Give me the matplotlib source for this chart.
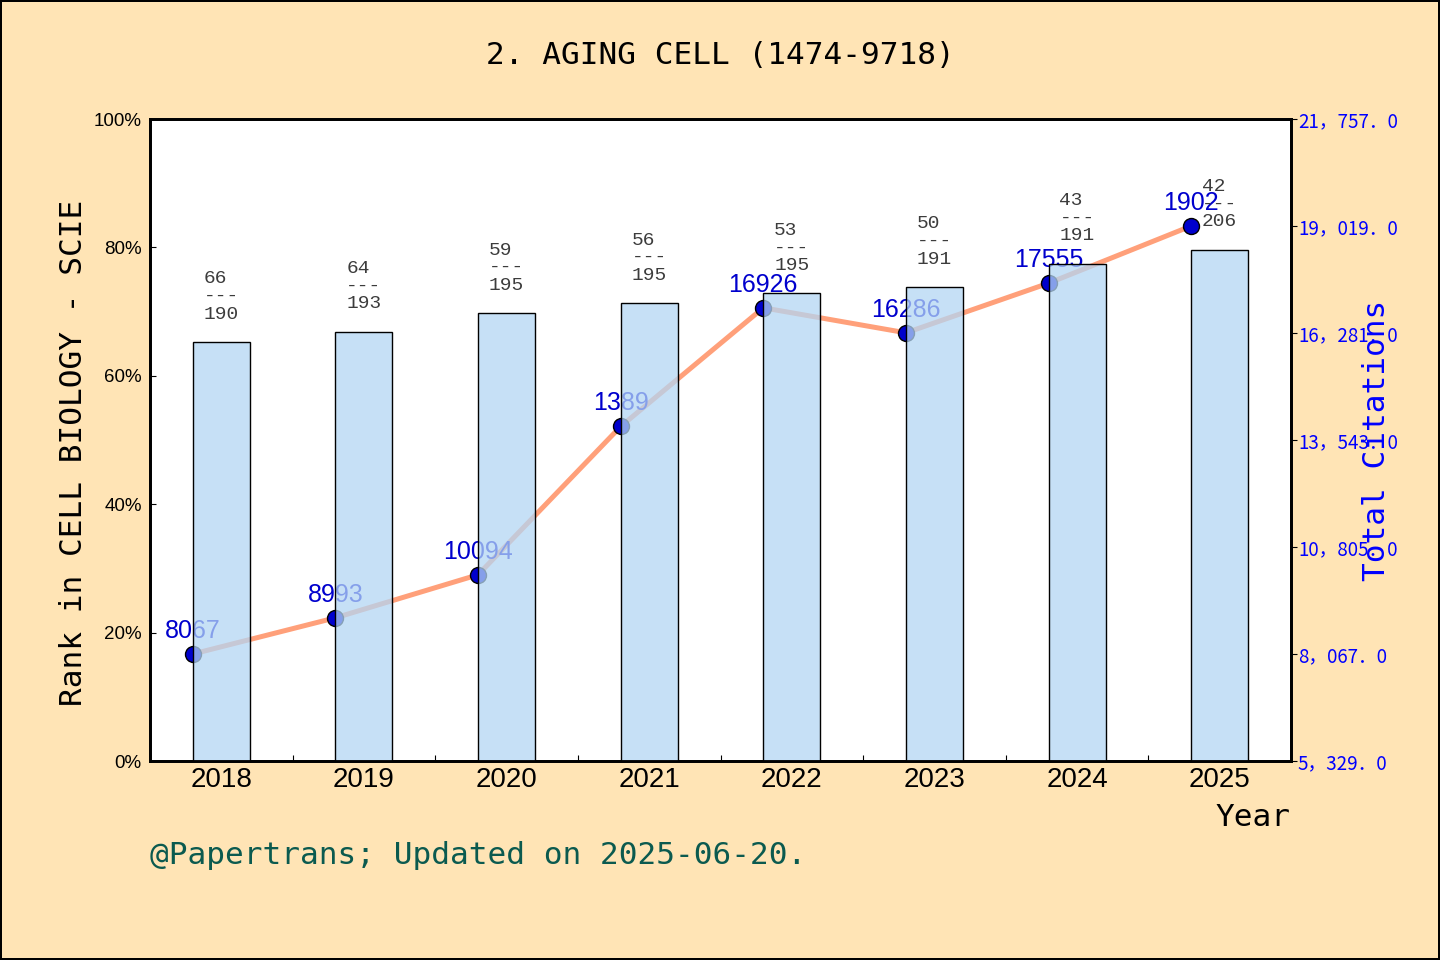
import matplotlib
matplotlib.use("Agg")
import matplotlib.pyplot as plt
from matplotlib.ticker import FixedLocator, FuncFormatter

# ---- data ----
years = ["2018", "2019", "2020", "2021", "2022", "2023", "2024", "2025"]
ranks = [66, 64, 59, 56, 53, 50, 43, 42]
totals = [190, 193, 195, 195, 195, 191, 191, 206]
citations = [8067, 8993, 10094, 13889, 16926, 16286, 17555, 19019]
citation_labels = ["8067", "8993", "10094", "1389", "16926", "16286", "17555", "1902"]
right_ticks = [5329, 8067, 10805, 13543, 16281, 19019, 21757]
left_ticks = [0, 20, 40, 60, 80, 100]

title = "2. AGING CELL (1474-9718)"
ylabel = "Rank in CELL BIOLOGY - SCIE"
y2label = "Total Citations"
footer = "@Papertrans; Updated on 2025-06-20."

pct = [(1 - r / t) * 100 for r, t in zip(ranks, totals)]
n = len(years)
xs = list(range(n))

MONO = "DejaVu Sans Mono"
BG = "#FFE4B5"

fig = plt.figure(figsize=(14.4, 9.6), dpi=100, facecolor=BG,
                 edgecolor="black", linewidth=1.5)
ax = fig.add_axes([150/1440, 1 - 761/960, (1291-150)/1440, (761-119)/960])
ax2 = ax.twinx()

# layer: bars (ax) above the citation line (ax2)
ax.set_zorder(ax2.get_zorder() + 1)
ax.patch.set_visible(False)
ax2.patch.set_visible(True)
ax2.patch.set_facecolor("white")

# citation line on right axis
ax2.plot(xs, citations, color="#FFA07A", linewidth=3.6, zorder=2,
         marker="o", markersize=11.5, markerfacecolor="#0000CD",
         markeredgecolor="black", markeredgewidth=1)
for x, c, lab in zip(xs, citations, citation_labels):
    ax2.annotate(lab, (x, c), xytext=(0, 8), textcoords="offset points",
                 ha="center", va="bottom", color="#0000CD",
                 fontsize=18, family="Liberation Sans", zorder=3)

# bars on left axis
ax.bar(xs, pct, width=0.4, align="edge", facecolor=(0.70, 0.84, 0.955, 0.75),
       edgecolor="black", linewidth=1, zorder=2)
for x, p, r, t in zip(xs, pct, ranks, totals):
    ax.annotate(f"{r}\n---\n{t}", (x + 0.2, p), xytext=(0, 14),
                textcoords="offset points", ha="center", va="bottom",
                multialignment="left", linespacing=1.05,
                color="#3C3C3C", fontsize=14, family="Liberation Mono", zorder=4)

ax.set_xlim(-0.3, 7.7)
ax.set_ylim(0, 100)
ax2.set_ylim(right_ticks[0], right_ticks[-1])

# x ticks
ax.xaxis.set_major_locator(FixedLocator([x + 0.2 for x in xs]))
ax.set_xticklabels(years)
ax.xaxis.set_minor_locator(FixedLocator([x + 0.7 for x in xs[:-1]]))
ax.tick_params(axis="x", which="major", length=0, pad=4, labelsize=20)
ax.tick_params(axis="x", which="minor", direction="in", length=4.3, width=0.8)
for lbl in ax.get_xticklabels():
    lbl.set_family("Liberation Sans")

# left y ticks
ax.yaxis.set_major_locator(FixedLocator(left_ticks))
ax.yaxis.set_major_formatter(FuncFormatter(lambda v, p: f"{int(v)}%"))
ax.tick_params(axis="y", direction="in", length=4, width=0.8, labelsize=13.5, pad=6)
for lbl in ax.get_yticklabels():
    lbl.set_family("Liberation Sans")

# right y ticks
ax2.yaxis.set_major_locator(FixedLocator(right_ticks))
ax2.yaxis.set_major_formatter(
    FuncFormatter(lambda v, p: f"{v:,.1f}".replace(",", "，").replace(".", "．")))
ax2.tick_params(axis="y", direction="out", length=4, width=0.8,
                labelsize=13.5, labelcolor="blue", pad=1)
for lbl in ax2.get_yticklabels():
    lbl.set_family("Noto Sans CJK SC")

for a in (ax, ax2):
    for s in a.spines.values():
        s.set_linewidth(2)

ax.set_ylabel(ylabel, fontsize=22.4, family=MONO)
ax.yaxis.set_label_coords(-0.054, 0.48)
ax2.set_ylabel(y2label, fontsize=22.4, family=MONO, color="blue", labelpad=-26)

fig.text(0.5, 1 - 56/960, title, ha="center", va="center",
         fontsize=22.4, family=MONO)
fig.text(1290/1440, 1 - 817/960, "Year", ha="right", va="center",
         fontsize=22.4, family=MONO)
fig.text(150/1440, 1 - 856/960, footer, ha="left", va="center",
         fontsize=22.4, family=MONO, color="#0B5A4F")

fig.savefig("out.png", dpi=100, facecolor=BG, edgecolor="black")
